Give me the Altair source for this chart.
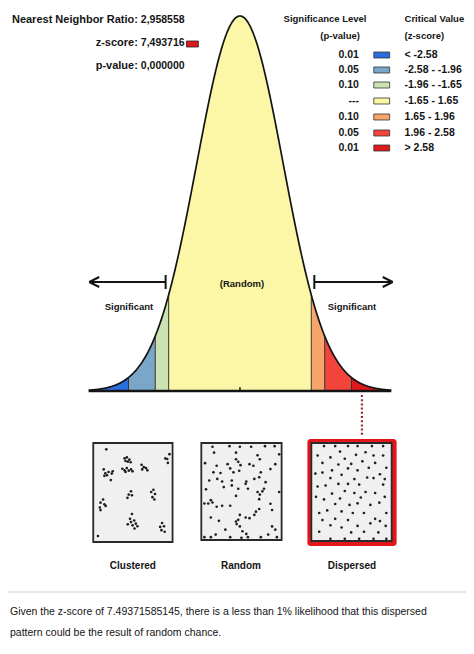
import altair as alt
import numpy as np
import pandas as pd

# ---------------- data ----------------
classes = ["< -2.58", "-2.58 - -1.96", "-1.96 - -1.65", "-1.65 - 1.65",
           "1.65 - 1.96", "1.96 - 2.58", "> 2.58"]
p_values = ["0.01", "0.05", "0.10", "---", "0.10", "0.05", "0.01"]
class_colors = ["#2a6de0", "#7aa6c8", "#cce2b2", "#fbf7a6",
                "#f8a56c", "#f3443c", "#df181c"]
z_edges = [-3.5, -2.58, -1.96, -1.65, 1.65, 1.96, 2.58, 3.5]
z_breaks = [-2.58, -1.96, -1.65, 1.65, 1.96, 2.58]

stats_labels = ["Nearest Neighbor Ratio:", "z-score:", "p-value:"]
stats_values = ["2,958558", "7,493716", "0,000000"]

pattern_names = ["Clustered", "Random", "Dispersed"]

# dot readings inside each pattern box (reading frame given by *_frame)
clustered_frame = (12, 250, 15, 312)
clustered_x = [48, 105, 112, 120, 108, 124, 115, 98, 105, 112, 118, 125, 130, 108,
               158, 165, 172, 160, 176, 245, 238, 240, 232, 40, 45, 50, 42, 55, 65, 68, 62,
               125, 118, 128, 114, 195, 188, 200, 192, 198, 38, 30, 42, 28, 46, 30,
               128, 122, 135, 115, 130, 140, 145, 136, 125, 222, 216, 228, 220, 230, 22]
clustered_y = [30, 58, 55, 62, 66, 70, 68, 90, 95, 88, 96, 92, 98, 100,
               78, 85, 88, 92, 95, 45, 60, 72, 58, 92, 104, 110, 112, 100, 105, 98, 125,
               160, 170, 172, 180, 155, 162, 168, 178, 185, 185, 195, 200, 210, 205, 218,
               230, 245, 250, 262, 265, 260, 268, 275, 255, 258, 270, 268, 280, 285, 298]

random_frame = (15, 255, 15, 302)
random_x = [45, 98, 130, 165, 208, 238, 50, 118, 185, 192, 252,
            22, 58, 92, 118, 125, 132, 160, 172, 225, 240, 48, 70, 100, 110, 128, 195,
            35, 60, 75, 105, 150, 175, 190, 80, 105, 125, 148, 210,
            25, 155, 185, 200, 192, 205, 118, 190, 252,
            40, 32, 45, 20, 58, 75, 100, 225, 190, 180, 230,
            40, 65, 130, 125, 148, 160, 175, 120, 130, 118, 230, 240,
            85, 138, 150, 55, 40, 20, 100, 135, 195, 218, 245, 155]
random_y = [22, 20, 22, 22, 20, 20, 40, 40, 48, 60, 45,
            72, 80, 75, 60, 68, 78, 75, 80, 90, 75, 100, 102, 88, 100, 95, 100,
            125, 120, 128, 125, 128, 120, 115, 145, 140, 150, 135, 130,
            152, 150, 160, 158, 168, 150, 172, 182, 160,
            185, 195, 192, 195, 205, 202, 202, 196, 212, 220, 215,
            238, 248, 230, 245, 238, 240, 230, 258, 265, 250, 265, 275,
            275, 280, 288, 290, 298, 298, 298, 300, 298, 290, 298, 298]

dispersed_frame = (20, 262, 28, 322)
dispersed_x = [55, 90, 130, 160, 205, 240, 105, 185, 35, 75, 120, 155, 210, 240,
               50, 100, 140, 175, 215, 80, 130, 160, 195, 250, 28, 50, 110, 230,
               75, 150, 190, 210, 245, 35, 60, 100, 130, 165, 240,
               80, 120, 150, 185, 215, 30, 55, 105, 170, 245, 90, 135, 160, 200, 228,
               40, 65, 110, 145, 180, 250, 50, 90, 130, 215, 230,
               75, 110, 160, 200, 248, 40, 140, 180, 225, 75, 120, 165, 210, 250]
dispersed_y = [33, 33, 33, 33, 33, 33, 50, 52, 62, 68, 72, 60, 62, 62,
               85, 90, 88, 80, 85, 108, 102, 108, 100, 100, 118, 115, 122, 120,
               132, 135, 130, 132, 135, 158, 155, 150, 150, 152, 152,
               180, 172, 178, 175, 178, 190, 198, 195, 192, 190, 212, 215, 210, 215, 208,
               240, 232, 235, 240, 240, 240, 262, 258, 262, 258, 265,
               278, 285, 280, 272, 280, 298, 300, 298, 300, 320, 320, 320, 320, 320]

note_lines = ["Given the z-score of 7.49371585145, there is a less than 1% likelihood that this dispersed",
              "pattern could be the result of random chance."]

# ---------------- layout ----------------
W, H = 458, 638
FONT = "Liberation Sans, Arial, sans-serif"
INK = "#141414"

# page-layout scales
PX = alt.Scale(domain=[4, 466], nice=False, zero=False)
PY = alt.Scale(domain=[4, 642], nice=False, zero=False, reverse=True)
# curve scales (z-score / density), aligned with the page scales
Z_CENTER, Z_PX = 238.0, 43.6
BASE_Y, PEAK_Y = 387.0, 12.0
D_PX = (BASE_Y - PEAK_Y) / (1 / np.sqrt(2 * np.pi))
ZX = alt.Scale(domain=[(4 - Z_CENTER) / Z_PX, (466 - Z_CENTER) / Z_PX], nice=False, zero=False)
DY = alt.Scale(domain=[(BASE_Y - 642) / D_PX, (BASE_Y - 4) / D_PX], nice=False, zero=False)
CSCALE = alt.Scale(domain=classes, range=class_colors)


def pdf(z):
    return np.exp(-np.asarray(z) ** 2 / 2) / np.sqrt(2 * np.pi)


# ---------- curve group ----------
band_rows = []
for i, cls in enumerate(classes):
    for z in np.linspace(z_edges[i], z_edges[i + 1], 60):
        band_rows.append({"z": z, "d": float(pdf(z)), "d0": 0.0, "cls": cls})
band_df = pd.DataFrame(band_rows)

outline_z = np.linspace(z_edges[0], z_edges[-1], 400)
outline_df = pd.DataFrame({"z": outline_z, "d": pdf(outline_z)})
break_df = pd.DataFrame({"z": z_breaks, "d": pdf(z_breaks), "d0": 0.0})
base_df = pd.DataFrame({"z": [z_edges[0]], "z2": [z_edges[-1]], "d": [0.0]})
center_df = pd.DataFrame({"z": [0.0], "d": [0.0], "d2": [0.004]})

areas = alt.Chart(band_df).mark_area(opacity=1, strokeWidth=0).encode(
    x=alt.X("z:Q", scale=ZX, axis=None),
    y=alt.Y("d:Q", scale=DY, axis=None),
    y2="d0:Q",
    color=alt.Color("cls:N", scale=CSCALE, legend=None),
)
breaks = alt.Chart(break_df).mark_rule(color="#333333", strokeWidth=1).encode(
    x=alt.X("z:Q", scale=ZX, axis=None),
    y=alt.Y("d:Q", scale=DY, axis=None),
    y2="d0:Q",
)
outline = alt.Chart(outline_df).mark_line(color=INK, strokeWidth=1.7).encode(
    x=alt.X("z:Q", scale=ZX, axis=None),
    y=alt.Y("d:Q", scale=DY, axis=None),
)
baseline = alt.Chart(base_df).mark_rule(color=INK, strokeWidth=2.4).encode(
    x=alt.X("z:Q", scale=ZX, axis=None),
    x2="z2:Q",
    y=alt.Y("d:Q", scale=DY, axis=None),
)
center_tick = alt.Chart(center_df).mark_rule(color=INK, strokeWidth=1.5).encode(
    x=alt.X("z:Q", scale=ZX, axis=None),
    y=alt.Y("d:Q", scale=DY, axis=None),
    y2="d2:Q",
)
curve_group = alt.layer(areas, breaks, outline, baseline, center_tick)

# ---------- page group ----------
def txt(df, align="left", size=12, weight="bold", color=INK):
    return alt.Chart(df).mark_text(
        align=align, baseline="middle", font=FONT, fontSize=size,
        fontWeight=weight, color=color,
    ).encode(
        x=alt.X("x:Q", scale=PX, axis=None),
        y=alt.Y("y:Q", scale=PY, axis=None),
        text="t:N",
    )

stat_rows = [16, 39, 62]
stats_lab = txt(pd.DataFrame({"x": 135, "y": stat_rows, "t": stats_labels}), align="right", size=11)
stats_val = txt(pd.DataFrame({"x": 138, "y": stat_rows, "t": stats_values}), align="left", size=10.5)
zswatch = alt.Chart(pd.DataFrame({"x": [184], "x2": [196], "y": [37], "y2": [43]})).mark_rect(
    fill="#df181c", stroke="#222222", strokeWidth=0.8
).encode(x=alt.X("x:Q", scale=PX, axis=None), x2="x2:Q",
         y=alt.Y("y:Q", scale=PY, axis=None), y2="y2:Q")

# legend
leg_y = [51, 66, 81, 97, 113, 129, 144]
HEAD = 9.5
ZCOL = 404
leg_head_l = txt(pd.DataFrame({"x": [282], "y": [15], "t": ["Significance Level"]}), size=HEAD)
leg_head_l2 = txt(pd.DataFrame({"x": [359], "y": [32], "t": ["(p-value)"]}), align="right", size=HEAD)
leg_head_r = txt(pd.DataFrame({"x": [ZCOL], "y": [15], "t": ["Critical Value"]}), size=HEAD)
leg_head_r2 = txt(pd.DataFrame({"x": [ZCOL], "y": [32], "t": ["(z-score)"]}), size=HEAD)
leg_p = txt(pd.DataFrame({"x": 358, "y": leg_y, "t": p_values}), align="right", size=10.5)
leg_z = txt(pd.DataFrame({"x": ZCOL, "y": leg_y, "t": classes}), align="left", size=10.5)
sw_df = pd.DataFrame({"cls": classes, "x": 373, "x2": 389,
                      "y": [v - 3 for v in leg_y], "y2": [v + 3 for v in leg_y]})
leg_sw = alt.Chart(sw_df).mark_rect(stroke="#333333", strokeWidth=0.8).encode(
    x=alt.X("x:Q", scale=PX, axis=None), x2="x2:Q",
    y=alt.Y("y:Q", scale=PY, axis=None), y2="y2:Q",
    color=alt.Color("cls:N", scale=CSCALE, legend=None),
)

# arrows
arrow_df = pd.DataFrame({
    "x":  [86, 86, 86, 163, 313, 392, 392, 313],
    "x2": [163, 96, 96, 163, 392, 382, 382, 313],
    "y":  [278, 278, 278, 271, 278, 278, 278, 271],
    "y2": [278, 273, 283, 285, 278, 273, 283, 285],
})
arrows = alt.Chart(arrow_df).mark_rule(color=INK, strokeWidth=2).encode(
    x=alt.X("x:Q", scale=PX, axis=None), x2="x2:Q",
    y=alt.Y("y:Q", scale=PY, axis=None), y2="y2:Q",
)
curve_labels = txt(pd.DataFrame({"x": [240, 126, 351], "y": [280, 303, 303],
                                 "t": ["(Random)", "Significant", "Significant"]}),
                   align="center", size=9.5)

# dotted connector
dotted = alt.Chart(pd.DataFrame({"x": [361], "y": [391], "y2": [432]})).mark_rule(
    color="#9b2d2d", strokeWidth=2.2, strokeDash=[2, 2.2]
).encode(x=alt.X("x:Q", scale=PX, axis=None),
         y=alt.Y("y:Q", scale=PY, axis=None), y2="y2:Q")

# boxes
box_df = pd.DataFrame({"name": pattern_names,
                       "x": [90, 199, 310], "x2": [170, 280, 391],
                       "y": [439, 439, 439], "y2": [538, 536, 537]})
red_frame = alt.Chart(pd.DataFrame({"x": [306], "x2": [396], "y": [435], "y2": [542]})).mark_rect(
    fill="#e3161b", cornerRadius=3
).encode(x=alt.X("x:Q", scale=PX, axis=None), x2="x2:Q",
         y=alt.Y("y:Q", scale=PY, axis=None), y2="y2:Q")
boxes = alt.Chart(box_df).mark_rect(fill="#f0f0f0", stroke="#2a2a2a", strokeWidth=1.8).encode(
    x=alt.X("x:Q", scale=PX, axis=None), x2="x2:Q",
    y=alt.Y("y:Q", scale=PY, axis=None), y2="y2:Q",
)

dot_sets = [(clustered_x, clustered_y, clustered_frame),
            (random_x, random_y, random_frame),
            (dispersed_x, dispersed_y, dispersed_frame)]
dot_rows = []
for (xs, ys, fr), (_, b) in zip(dot_sets, box_df.iterrows()):
    for zx, zy in zip(xs, ys):
        u = (zx - fr[0]) / (fr[1] - fr[0])
        v = (zy - fr[2]) / (fr[3] - fr[2])
        dot_rows.append({"x": b.x + 1.5 + u * (b.x2 - b.x - 3),
                         "y": b.y + 1.5 + v * (b.y2 - b.y - 3)})
dots = alt.Chart(pd.DataFrame(dot_rows)).mark_circle(size=7, color="#1e1e1e", opacity=1).encode(
    x=alt.X("x:Q", scale=PX, axis=None),
    y=alt.Y("y:Q", scale=PY, axis=None),
)
box_labels = txt(pd.DataFrame({"x": [130, 239, 351], "y": [562, 562, 562], "t": pattern_names}),
                 align="center", size=10)

# bottom note
sep = alt.Chart(pd.DataFrame({"x": [4], "x2": [466], "y": [588]})).mark_rule(
    color="#d2d2d2", strokeWidth=1.2
).encode(x=alt.X("x:Q", scale=PX, axis=None), x2="x2:Q",
         y=alt.Y("y:Q", scale=PY, axis=None))
note = txt(pd.DataFrame({"x": [6, 6], "y": [608, 629], "t": note_lines}),
           align="left", size=10.5, weight="normal")

page_group = alt.layer(
    stats_lab, stats_val, zswatch,
    leg_head_l, leg_head_l2, leg_head_r, leg_head_r2, leg_p, leg_z, leg_sw,
    arrows, curve_labels, dotted, red_frame, boxes, dots, box_labels, sep, note,
)

chart = alt.layer(curve_group, page_group).resolve_scale(
    x="independent", y="independent"
).properties(
    width=W, height=H, padding=0, autosize=alt.AutoSizeParams(type="none"),
    background="white",
).configure_view(stroke=None)

chart.save("out.html", embed_options={"renderer": "svg", "actions": False})
